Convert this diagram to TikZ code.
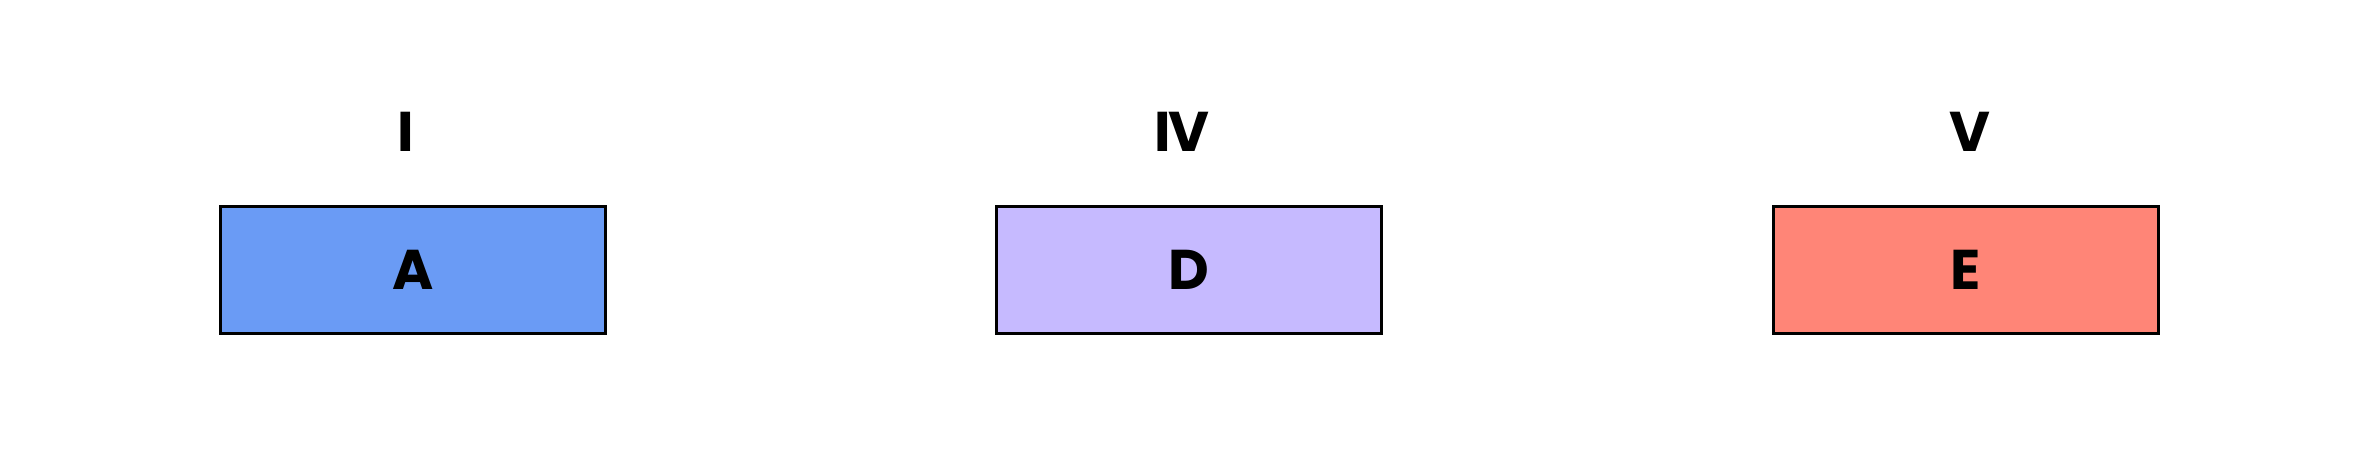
\documentclass[tikz,border=0pt]{standalone}
\usepackage{fontspec}
\setmainfont{Poppins}
\definecolor{boxblue}{HTML}{6A9BF5}
\definecolor{boxlilac}{HTML}{C6BAFF}
\definecolor{boxsalmon}{HTML}{FF8577}
\tikzset{
  part/.style={draw=black, line width=3pt, minimum width=385pt, minimum height=127pt, inner sep=0pt, font=\fontsize{56}{56}\selectfont\bfseries},
  tag/.style={anchor=base, inner sep=0pt, font=\fontsize{56}{56}\selectfont\bfseries}
}

\begin{document}
\begin{tikzpicture}[x=1pt, y=-1pt]
\useasboundingbox (0,0) rectangle (2355,462);
\node[part, fill=boxblue] (A) at (413,270) {A};
\node[part, fill=boxlilac] (D) at (1188.5,270) {D};
\node[part, fill=boxsalmon] (E) at (1965.5,270) {E};
\node[tag] (tI) at (406,152) {I};
\node[tag] (tIV) at (1182,152) {I\kern-2pt V};
\node[tag] (tV) at (1970,152) {V};
\end{tikzpicture}
\end{document}
